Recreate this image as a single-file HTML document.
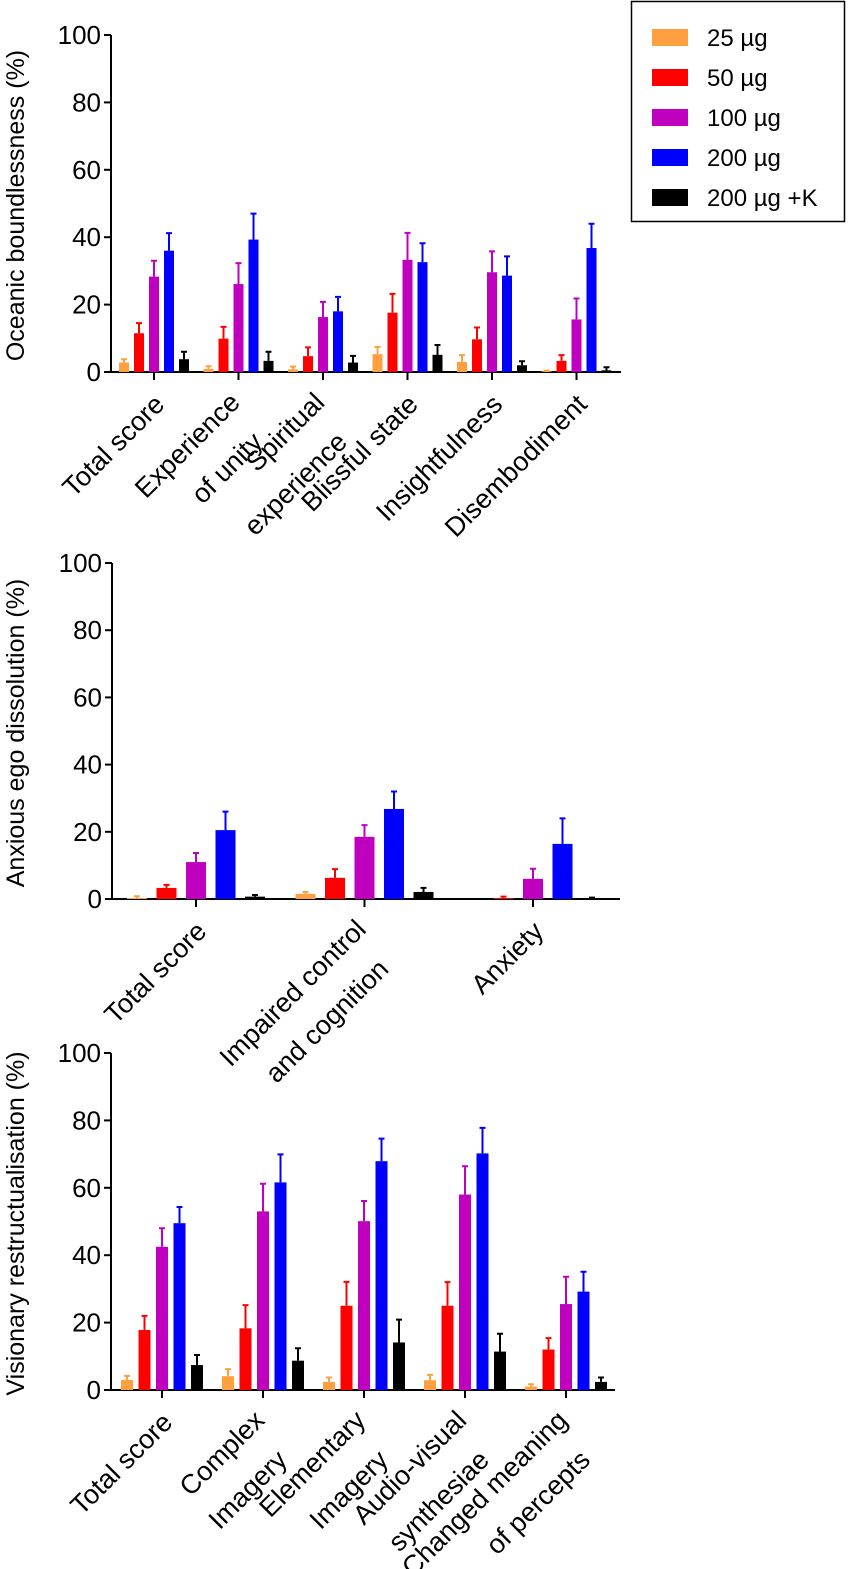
<!DOCTYPE html>
<html><head><meta charset="utf-8">
<style>
html,body{margin:0;padding:0;background:#fff;}
svg{display:block;font-family:"Liberation Sans",Arial,sans-serif;}
</style></head>
<body>
<svg id="fig" width="849" height="1569" viewBox="0 0 849 1569" xmlns="http://www.w3.org/2000/svg">
  <g id="legend">
    <rect x="631.5" y="1.5" width="213" height="220" fill="#fff" stroke="#000" stroke-width="1.5"/>
  </g>
</svg>
<script>
const seriesNames = ["25 \u00b5g","50 \u00b5g","100 \u00b5g","200 \u00b5g","200 \u00b5g +K"];
const seriesColors = ["#ffa040","#ff0000","#bf00bf","#0000ff","#000000"];
const yTicks = [0,20,40,60,80,100];

// Chart 1: Oceanic boundlessness
const c1Categories = [["Total score"],["Experience","of unity"],["Spiritual","experience"],["Blissful state"],["Insightfulness"],["Disembodiment"]];
const c1Means = [
  [2.8,0.9,0.8,5.3,3.0,0.2],
  [11.5,9.9,4.7,17.6,9.7,3.3],
  [28.3,26.1,16.3,33.3,29.6,15.6],
  [36.0,39.3,18.0,32.6,28.6,36.8],
  [3.8,3.3,2.8,5.1,2.0,0.5]];
const c1Upper = [
  [3.8,1.7,1.6,7.4,5.0,0.4],
  [14.5,13.4,7.3,23.2,13.2,5.0],
  [33.0,32.3,20.8,41.3,35.8,21.8],
  [41.2,47.0,22.3,38.2,34.3,44.0],
  [6.0,6.0,4.8,8.0,3.2,1.4]];

// Chart 2: Anxious ego dissolution
const c2Categories = [["Total score"],["Impaired control","and cognition"],["Anxiety"]];
const c2Means = [
  [0.3,1.5,0],
  [3.3,6.3,0.3],
  [11.0,18.5,6.0],
  [20.5,26.8,16.4],
  [0.7,2.1,0.2]];
const c2Upper = [
  [0.8,2.1,0],
  [4.2,8.9,0.7],
  [13.7,22.0,9.0],
  [26.0,32.0,24.0],
  [1.2,3.3,0.4]];

// Chart 3: Visionary restructualisation
const c3Categories = [["Total score"],["Complex","Imagery"],["Elementary","Imagery"],["Audio-visual","synthesiae"],["Changed meaning","of percepts"]];
const c3Means = [
  [3.0,4.1,2.4,2.9,1.0],
  [17.8,18.3,25.0,25.0,12.0],
  [42.5,53.0,50.1,58.0,25.5],
  [49.5,61.6,67.9,70.2,29.2],
  [7.4,8.7,14.1,11.4,2.4]];
const c3Upper = [
  [4.2,6.2,3.7,4.5,1.7],
  [22.0,25.2,32.1,32.0,15.4],
  [48.0,61.2,56.1,66.4,33.6],
  [54.3,69.9,74.6,77.8,35.1],
  [10.4,12.4,20.9,16.7,3.7]];

const NS="http://www.w3.org/2000/svg";
const svg=document.getElementById('fig');
function mk(tag,attrs,parent){const e=document.createElementNS(NS,tag);for(const k in attrs)e.setAttribute(k,attrs[k]);(parent||svg).appendChild(e);return e;}

// legend
const lg=document.getElementById('legend');
seriesNames.forEach((n,i)=>{
  const yy=29+i*40;
  const sw=mk('rect',{x:652,y:yy,width:36,height:17,fill:seriesColors[i]},lg);
  
  
  const t=mk('text',{x:707,y:yy+17,'font-size':24,fill:'#000'},lg);
  t.textContent=n;
  
  
});

function drawChart(o){
  const g=mk('g',{});
  
  
  const yScale=v=>o.y0-(o.y0-o.y100)*v/100;
  const xCenter=i=>o.x1+o.spacing*i;
  const ya=mk('line',{x1:o.ax,y1:o.y100,x2:o.ax,y2:o.y0+1,stroke:'#000','stroke-width':2},g);
  
  
  const xa=mk('line',{x1:o.ax,y1:o.y0,x2:o.axEnd,y2:o.y0,stroke:'#000','stroke-width':2},g);
  
  
  yTicks.forEach(v=>{
    const y=yScale(v);
    mk('line',{x1:o.ax-7,y1:y,x2:o.ax,y2:y,stroke:'#000','stroke-width':2},g);
    const t=mk('text',{x:o.ax-10,y:y+9,'font-size':26,'text-anchor':'end',fill:'#000'},g);
    t.textContent=v;
    
    
  });
  const tt=mk('text',{x:0,y:0,'font-size':25,'text-anchor':'middle',fill:'#000',transform:`translate(${o.titleX},${(o.y0+o.y100)/2+2}) rotate(-90)`},g);
  tt.textContent=o.title;
  
  
  o.cats.forEach((lines,i)=>{
    const cx=xCenter(i);
    mk('line',{x1:cx,y1:o.y0,x2:cx,y2:o.y0+8,stroke:'#000','stroke-width':2},g);
    const two=lines.length>1;
    const ax=cx+12+(two?-9:0), ay=o.y0+34+(two?-2:0);
    const t=mk('text',{x:0,y:0,'font-size':27,'text-anchor':'end',fill:'#000',transform:`translate(${ax},${ay}) rotate(-45)`},g);
    
    
    lines.forEach((ln,k)=>{const s=mk('tspan',{x:(k?-12:0),dy:(k?44:0)},t);s.textContent=ln;});
    for(let s=0;s<5;s++){
      const bx=cx+(s-2)*o.off-o.bw/2;
      const m=o.means[s][i],u=o.upper[s][i];
      const y=yScale(m);
      const b=mk('rect',{x:bx,y:y,width:o.bw,height:Math.max(0,o.y0-y),fill:seriesColors[s]},g);
      
      
      if(u>m){
        const ex=bx+o.bw/2, ey=yScale(u);
        const el=mk('path',{d:`M${ex},${y} V${ey} M${ex-3},${ey} H${ex+3}`,stroke:seriesColors[s],'stroke-width':2,fill:'none'},g);
        
        
      }
    }
  });
}

drawChart({name:'oceanic-boundlessness-chart',title:'Oceanic boundlessness (%)',cats:c1Categories,means:c1Means,upper:c1Upper,
  ax:111,axEnd:621,y0:372,y100:35,x1:154,spacing:84.5,off:15,bw:10,titleX:24});
drawChart({name:'anxious-ego-dissolution-chart',title:'Anxious ego dissolution (%)',cats:c2Categories,means:c2Means,upper:c2Upper,
  ax:112,axEnd:620,y0:899,y100:563,x1:196,spacing:168.5,off:29.5,bw:20,titleX:24});
drawChart({name:'visionary-restructualisation-chart',title:'Visionary restructualisation (%)',cats:c3Categories,means:c3Means,upper:c3Upper,
  ax:111,axEnd:615,y0:1390,y100:1053,x1:162,spacing:101,off:17.5,bw:12,titleX:24});
</script>
</body></html>
